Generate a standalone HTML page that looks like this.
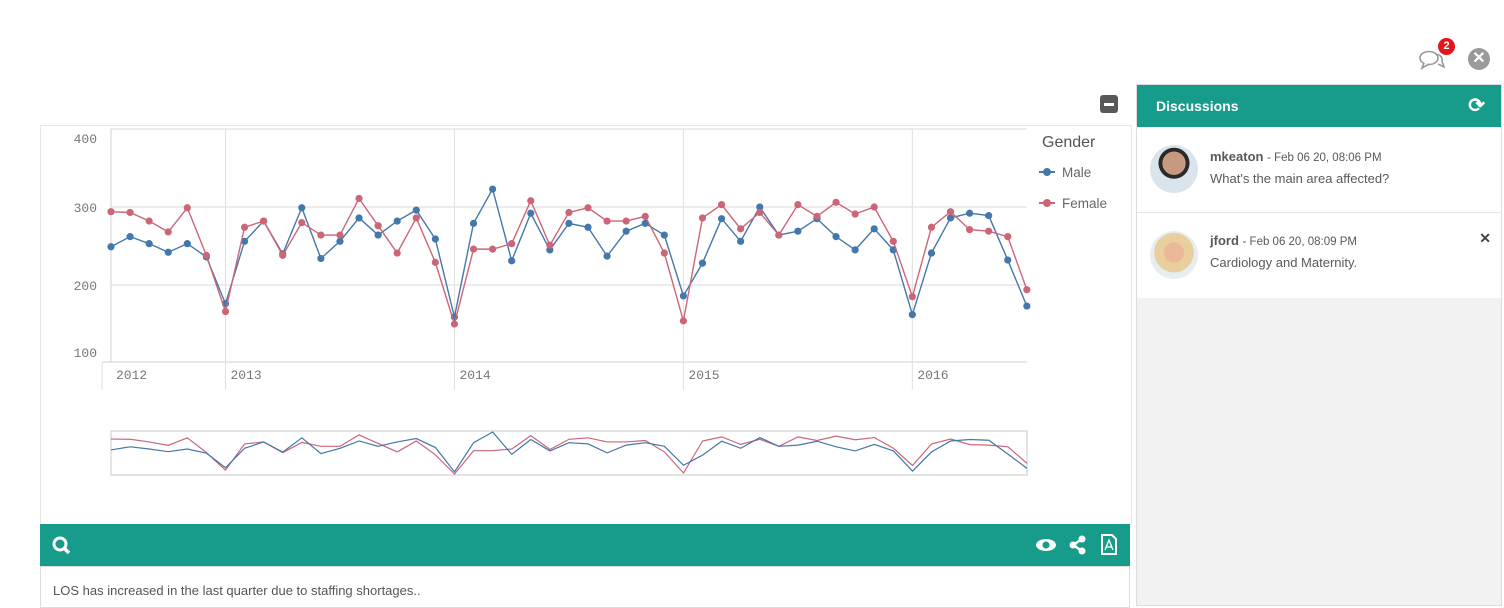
<!DOCTYPE html>
<html><head><meta charset="utf-8">
<style>
body{margin:0;width:1504px;height:594px;background:#fff;font-family:"Liberation Sans",sans-serif;position:relative;overflow:hidden}
.abs{position:absolute}
</style></head><body>
<div class="abs" style="left:1418px;top:46px">
<svg width="30" height="26"><ellipse cx="11" cy="12" rx="9" ry="6.5" fill="none" stroke="#999" stroke-width="1.6"/><path d="M6 17 L4 22 L11 18" fill="#fff" stroke="#999" stroke-width="1.6"/><path d="M17 8 Q25 9 24 15 L26 21 L20 18" fill="none" stroke="#999" stroke-width="1.6"/></svg></div>
<div class="abs" style="left:1438px;top:38px;width:17px;height:17px;border-radius:50%;background:#e4151b;color:#fff;font-size:11px;font-weight:bold;text-align:center;line-height:17px">2</div>
<div class="abs" style="left:1468px;top:48px;width:22px;height:22px;border-radius:50%;background:#9a9a9a;color:#fff;font-size:16px;font-weight:bold;text-align:center;line-height:22px">✕</div>
<div class="abs" style="left:1100px;top:95px;width:18px;height:18px;border-radius:3px;background:#595959"><div style="position:absolute;left:4px;top:8px;width:10px;height:3px;background:#fff"></div></div>

<div class="abs" style="left:40px;top:125px;width:1090px;height:398px;border:1px solid #e6e6e6;border-bottom:none"></div>
<svg class="abs" id="chart" style="left:0;top:0" width="1135" height="520"></svg>

<div class="abs" style="left:40px;top:524px;width:1090px;height:42px;background:#179b8a">
<svg class="abs" style="left:12px;top:12px" width="20" height="20"><circle cx="8" cy="8" r="6" fill="none" stroke="#fff" stroke-width="3"/><line x1="12" y1="12" x2="17" y2="17" stroke="#fff" stroke-width="3.5"/></svg>
<svg class="abs" style="left:995px;top:14px" width="22" height="14"><ellipse cx="11" cy="7" rx="10" ry="6" fill="#fff"/><circle cx="11" cy="7" r="3.5" fill="#179b8a"/></svg>
<svg class="abs" style="left:1029px;top:11px" width="18" height="20"><line x1="13" y1="4" x2="4" y2="10" stroke="#fff" stroke-width="2.5"/><line x1="13" y1="16" x2="4" y2="10" stroke="#fff" stroke-width="2.5"/><circle cx="13" cy="4" r="3.5" fill="#fff"/><circle cx="13" cy="16" r="3.5" fill="#fff"/><circle cx="4" cy="10" r="3.5" fill="#fff"/></svg>
<svg class="abs" style="left:1061px;top:10px" width="16" height="21"><path d="M1 1 H11 L15 5 V20 H1 Z" fill="none" stroke="#fff" stroke-width="2"/><path d="M4 16 L8 6 L12 16 M5 13 H11" fill="none" stroke="#fff" stroke-width="1.3"/></svg>
</div>
<div class="abs" style="left:40px;top:566px;width:1088px;height:40px;border:1px solid #ddd;font-size:13px;color:#555"><div style="position:absolute;left:12px;top:16px">LOS has increased in the last quarter due to staffing shortages..</div></div>

<div class="abs" style="left:1136px;top:84px;width:364px;height:520px;background:#f2f2f2;border:1px solid #ddd">
<div style="height:42px;background:#179b8a;color:#fff;font-weight:bold;font-size:14px;line-height:42px;padding-left:19px;position:relative">Discussions
<div style="position:absolute;right:16px;top:0;font-size:20px">⟳</div></div>
<div style="height:85px;background:#fff;border-bottom:1px solid #e6e6e6;position:relative">
<div style="position:absolute;left:13px;top:18px;width:48px;height:48px;border-radius:50%;background:radial-gradient(circle at 50% 38%,#c59a80 0 30%,#2a2a2a 31% 40%,#d9e4ec 41%)"></div>
<div style="position:absolute;left:73px;top:22px;font-size:13px;color:#595959"><b>mkeaton</b> <span style="font-size:11.5px">- Feb 06 20, 08:06 PM</span></div>
<div style="position:absolute;left:73px;top:44px;font-size:13px;color:#595959">What's the main area affected?</div></div>
<div style="height:85px;background:#fff;position:relative">
<div style="position:absolute;left:13px;top:18px;width:48px;height:48px;border-radius:50%;background:radial-gradient(circle at 50% 45%,#eab999 0 28%,#e8cf9d 29% 55%,#e6eef2 56%)"></div>
<div style="position:absolute;left:73px;top:20px;font-size:13px;color:#595959"><b>jford</b> <span style="font-size:11.5px">- Feb 06 20, 08:09 PM</span></div>
<div style="position:absolute;left:73px;top:42px;font-size:13px;color:#595959">Cardiology and Maternity.</div>
<div style="position:absolute;right:10px;top:17px;font-size:14px;font-weight:bold;color:#444">✕</div></div>
</div>

<script>
const months = 49; // Jul 2012 .. Jul 2016
const yearLabels = ["2012","2013","2014","2015","2016"];
const yearStartIndex = [-1,6,18,30,42];
const yTicks = [100,200,300,400];
const male = [249,262,253,242,253,236,176,256,282,240,299,234,256,286,264,282,296,259,159,279,323,231,292,245,279,274,237,269,279,264,186,228,285,256,300,264,269,285,262,245,272,245,162,241,286,292,289,232,173];
const female = [294,293,282,268,299,238,166,274,282,238,280,264,264,311,276,241,286,229,150,246,246,253,308,251,293,299,282,282,288,241,154,286,303,272,293,264,303,288,306,291,300,256,185,274,294,271,269,262,194];

const NS="http://www.w3.org/2000/svg";
const svg=document.getElementById('chart');
function mk(t,a,p){const e=document.createElementNS(NS,t);for(const k in a)e.setAttribute(k,a[k]);(p||svg).appendChild(e);return e;}
const X0=111,DX=19.08,Y400=129,YPX=0.78;
const xs=i=>X0+i*DX;
const ys=v=>Y400+(400-v)*YPX;
yTicks.forEach(t=>{
 if(t>100){const g=mk('line',{x1:111,x2:1027,y1:ys(t),y2:ys(t),stroke:'#d9d9d9'});
 }
 const ly = t==100?357:(t==400?143:ys(t)+5);
 const tx=mk('text',{x:97,y:ly,'text-anchor':'end','font-size':13,fill:'#777','font-family':'Liberation Mono,monospace'});
 tx.textContent=t;
 
 
});
mk('line',{x1:111,x2:111,y1:129,y2:362,stroke:'#d0d0d0'});
mk('line',{x1:102,x2:1027,y1:362,y2:362,stroke:'#d0d0d0'});
yearLabels.forEach((y,k)=>{
 const x=k==0?102:xs(yearStartIndex[k]);
 if(k>0){const l=mk('line',{x1:x,x2:x,y1:129,y2:390,stroke:'#e0e0e0'});}
 else mk('line',{x1:x,x2:x,y1:362,y2:390,stroke:'#e0e0e0'});
 const t=mk('text',{x:x+(k==0?14:5),y:379,'font-size':13,fill:'#777','font-family':'Liberation Mono,monospace'});
 t.textContent=y;
 
 
});
function series(data,col,name){
 const g=mk('g',{});
 
 
 mk('polyline',{points:data.map((v,i)=>xs(i)+','+ys(v)).join(' '),fill:'none',stroke:col,'stroke-width':1.4},g);
 data.forEach((v,i)=>{const c=mk('circle',{cx:xs(i),cy:ys(v),r:3.6,fill:col},g);
 
 });
}
series(male,'#4477aa','male');
series(female,'#cc6677','female');
const lt=mk('text',{x:1042,y:147,'font-size':16,fill:'#555'});lt.textContent='Gender';

[['Male','#4477aa',172],['Female','#cc6677',203]].forEach(([n,c,y])=>{
 const g=mk('g',{});
 
 
 mk('line',{x1:1039,x2:1055,y1:y,y2:y,stroke:c,'stroke-width':2},g);
 mk('circle',{cx:1047,cy:y,r:4,fill:c},g);
 const t=mk('text',{x:1062,y:y+5,'font-size':13.5,fill:'#666'},g);t.textContent=n;
});
const mb=mk('rect',{x:111,y:431,width:916,height:44,fill:'none',stroke:'#c8c8c8'});

const all=male.concat(female),mn=Math.min(...all),mxv=Math.max(...all);
const mxs=i=>111+i*(916/(months-1)), mys=v=>474-(v-mn)/(mxv-mn)*42;
[[female,'#cc6677'],[male,'#4477aa']].forEach(([d,c])=>{
 const p=mk('polyline',{points:d.map((v,i)=>mxs(i)+','+mys(v)).join(' '),fill:'none',stroke:c,'stroke-width':1.2});
 
});
</script>
</body></html>
